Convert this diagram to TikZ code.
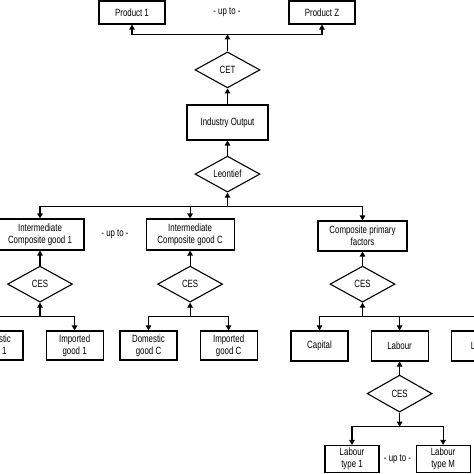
\documentclass[tikz,border=0pt]{standalone}
\usepackage{fontspec}
\setmainfont{Liberation Sans}[FakeStretch=0.75]
\usetikzlibrary{positioning,arrows.meta,shapes.geometric,calc}
\tikzset{
  boxnode/.style={rectangle, draw=black, line width=1.1pt, fill=white, minimum width=57pt, minimum height=29pt, inner sep=1pt, align=center, font=\fontsize{10.5}{12}\selectfont},
  mixnode/.style={diamond, draw=black, line width=1.1pt, fill=white, aspect=1.8, minimum width=65pt, minimum height=36pt, inner sep=0pt, font=\fontsize{10.5}{12}\selectfont},
  uptonode/.style={font=\fontsize{10.5}{12}\selectfont},
  arrow/.style={-{Triangle[length=5pt,width=5.5pt]}, line width=1.1pt}
}

\begin{document}
\begin{tikzpicture}[x=1pt, y=-1pt]
\useasboundingbox (0,0) rectangle (474,474);
% products and industry output
\node[boxnode, minimum width=66pt, minimum height=23pt] (prod1) at (132,12.5) {Product 1};
\node[boxnode, minimum width=66pt, minimum height=23pt] (prodZ) at (322,12.5) {Product Z};
\node[uptonode] (upto1) at ($(prod1)!0.5!(prodZ)$) {- up to -};
\node[boxnode, minimum width=81pt, minimum height=35pt] (output) at (227.5,122.5) {Industry Output};
\node[mixnode, above=16pt of output] (cet) {CET};
\node[mixnode, below=15pt of output] (leontief) {Leontief};
% composite goods and factors
\node[boxnode, minimum width=88pt, minimum height=31pt] (inter1) at (40,234.5) {Intermediate\\Composite good 1};
\node[boxnode, minimum width=88pt, minimum height=31pt, right=61pt of inter1] (interC) {Intermediate\\Composite good C};
\node[uptonode] (upto2) at ($(inter1)!0.5!(interC)$) {- up to -};
\node[boxnode, minimum width=89pt, minimum height=30pt] (primary) at (362.5,236) {Composite primary\\factors};
\node[mixnode, below=15pt of inter1] (ces1) {CES};
\node[mixnode, below=15pt of interC] (cesC) {CES};
\node[mixnode, below=14pt of primary] (cesF) {CES};
% goods
\node[boxnode] (dom1) at (-5.5,345.5) {Domestic\\good 1};
\node[boxnode, right=22pt of dom1] (imp1) {Imported\\good 1};
\node[boxnode] (domC) at (148.5,345.5) {Domestic\\good C};
\node[boxnode, right=22pt of domC] (impC) {Imported\\good C};
\node[boxnode, minimum height=30pt] (capital) at (319.5,346) {Capital};
\node[boxnode, minimum height=30pt, right=22pt of capital] (labour) {Labour};
\node[boxnode, minimum height=30pt, right=22pt of labour] (land) {Land};
% labour types
\node[mixnode, minimum height=37pt, below=13pt of labour] (cesL) {CES};
\node[boxnode, minimum width=54pt, minimum height=27pt] (lab1) at (352,459) {Labour\\type 1};
\node[boxnode, minimum width=54pt, minimum height=27pt, right=36pt of lab1] (labM) {Labour\\type M};
\node[uptonode] (upto3) at ($(lab1)!0.5!(labM)$) {- up to -};
% split points
\path (cet.north) ++(0,-17) coordinate (splitout);
\path (leontief.south) ++(0,14) coordinate (splitmid);
\path (ces1.south) ++(0,14) coordinate (split1);
\path (cesC.south) ++(0,14) coordinate (splitC);
\path (cesF.south) ++(0,14) coordinate (splitF);
\path (cesL.south) ++(0,14) coordinate (splitL);
% connectors
\draw[arrow] (cet) -- (splitout);
\draw[arrow] (splitout) -| (prod1);
\draw[arrow] (splitout) -| (prodZ);
\draw[arrow] (output) -- (cet);
\draw[arrow] (leontief) -- (output);
\draw[arrow] (splitmid) -- (leontief);
\draw[arrow] (splitmid) -| (inter1);
\draw[arrow] (splitmid) -| (interC);
\draw[arrow] (splitmid) -| (primary);
\draw[arrow] (ces1) -- (inter1);
\draw[arrow] (cesC) -- (interC);
\draw[arrow] (cesF) -- (primary);
\draw[arrow] (split1) -- (ces1);
\draw[arrow] (splitC) -- (cesC);
\draw[arrow] (splitF) -- (cesF);
\draw[arrow] (split1) -| (dom1);
\draw[arrow] (split1) -| (imp1);
\draw[arrow] (splitC) -| (domC);
\draw[arrow] (splitC) -| (impC);
\draw[arrow] (splitF) -| (capital);
\draw[arrow] (splitF) -| (labour);
\draw[arrow] (splitF) -| (land);
\draw[arrow] (cesL) -- (labour);
\draw[arrow] (cesL) -- (splitL);
\draw[arrow] (splitL) -| (lab1);
\draw[arrow] (splitL) -| (labM);
\end{tikzpicture}
\end{document}
